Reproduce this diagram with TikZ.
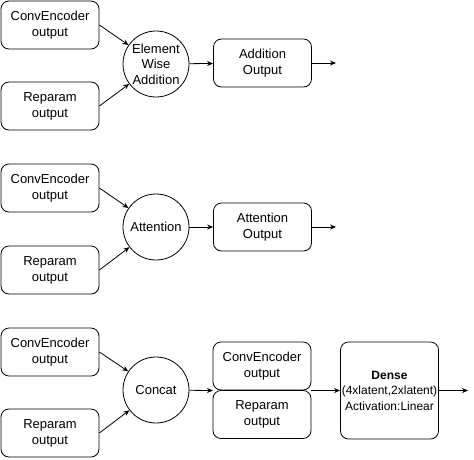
\documentclass[tikz,border=0pt]{standalone}
\usepackage{fontspec}
\setmainfont{Liberation Sans}
\usetikzlibrary{arrows.meta}
\begin{document}
\begin{tikzpicture}[x=1pt,y=-1pt,
  font=\fontsize{13}{16}\selectfont,
  box/.style={draw, line width=0.8pt, rounded corners=8pt, minimum width=98pt, minimum height=48pt, align=center, inner sep=0pt},
  circ/.style={draw, line width=0.8pt, circle, minimum size=66pt, align=center, inner sep=0pt},
  arr/.style={line width=0.8pt, -{Stealth[length=6pt,width=5pt]}}]
\useasboundingbox (0,0) rectangle (474,459);
% row 1
\node[box] (c1) at (50,25) {ConvEncoder\\output};
\node[box] (r1) at (50,106) {Reparam\\output};
\node[circ, font=\fontsize{13}{15.5}\selectfont] (e1) at (156,64) {Element\\Wise\\Addition};
\node[box] (o1) at (262.5,63) {Addition\\Output};
\coordinate (t1) at (336,63);
\draw[arr] (c1.east) -- (e1);
\draw[arr] (r1.east) -- (e1);
\draw[arr] (e1) -- (o1);
\draw[arr] (o1) -- (t1);
% row 2
\node[box] (c2) at (50,188) {ConvEncoder\\output};
\node[box] (r2) at (50,270) {Reparam\\output};
\node[circ] (a2) at (156,227) {Attention};
\node[box] (o2) at (262.5,227) {Attention\\Output};
\coordinate (t2) at (336,227);
\draw[arr] (c2.east) -- (a2);
\draw[arr] (r2.east) -- (a2);
\draw[arr] (a2) -- (o2);
\draw[arr] (o2) -- (t2);
% row 3
\node[box] (c3) at (50,352) {ConvEncoder\\output};
\node[box] (r3) at (50,433) {Reparam\\output};
\node[circ] (k3) at (156,390) {Concat};
\node[box] (s1) at (262,366) {ConvEncoder\\output};
\node[box] (s2) at (262,414.5) {Reparam\\output};
\coordinate (m3) at (213,390.5);
\coordinate (m4) at (311,390.5);
\node[box, minimum height=97pt, font=\fontsize{12}{15.5}\selectfont] (d3) at (389.5,390.5) {\textbf{Dense}\\(4xlatent,2xlatent)\\Activation:Linear};
\coordinate (t3) at (468,390.5);
\draw[arr] (c3.east) -- (k3);
\draw[arr] (r3.east) -- (k3);
\draw[arr] (k3) -- (m3);
\draw[arr] (m4) -- (d3);
\draw[arr] (d3) -- (t3);
\end{tikzpicture}
\end{document}
